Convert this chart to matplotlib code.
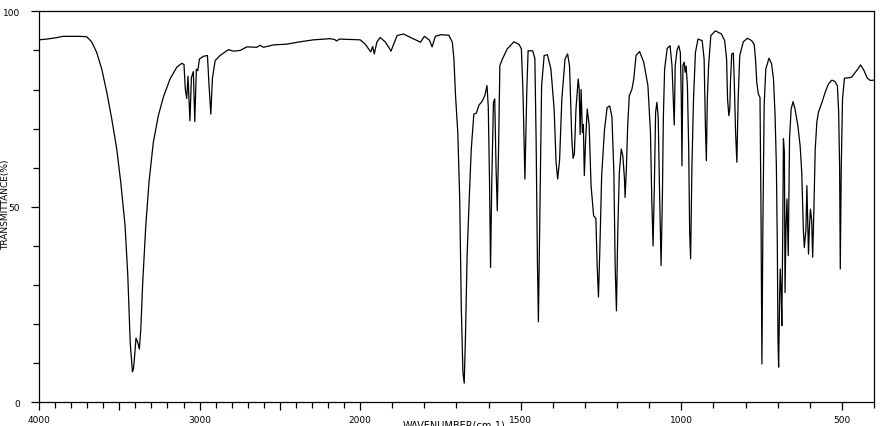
import numpy as np
import matplotlib
matplotlib.use("Agg")
import matplotlib.pyplot as plt

# IR spectrum (wavenumber in cm-1, transmittance in %)
wavenumber = [
    4000, 3950, 3900, 3849, 3750, 3703, 3672, 3641, 3609, 3578, 3547, 3516,
    3491, 3464, 3447, 3432, 3418, 3412, 3406, 3396, 3385, 3375, 3366, 3354,
    3335, 3315, 3288, 3257, 3226, 3184, 3142, 3111, 3097, 3089, 3080, 3072,
    3060, 3051, 3039, 3030, 3020, 3011, 3001, 2976, 2951, 2941, 2930, 2920,
    2903, 2872, 2820, 2789, 2747, 2706, 2644, 2623, 2602, 2540, 2457, 2374,
    2291, 2187, 2160, 2146, 2130, 2000, 1984, 1974, 1967, 1961, 1956, 1948,
    1938, 1922, 1908, 1904, 1896, 1885, 1865, 1838, 1812, 1800, 1784, 1776,
    1766, 1750, 1724, 1713, 1708, 1703, 1696, 1690, 1685, 1680, 1676, 1672,
    1667, 1660, 1654, 1646, 1638, 1630, 1620, 1612, 1605, 1601, 1597, 1594,
    1590, 1585, 1581, 1577, 1573, 1569, 1565, 1557, 1542, 1521, 1505, 1498,
    1493, 1487, 1481, 1477, 1463, 1456, 1452, 1448, 1445, 1441, 1435, 1427,
    1417, 1406, 1396, 1390, 1385, 1379, 1372, 1362, 1354, 1348, 1341, 1337,
    1333, 1328, 1321, 1318, 1315, 1312, 1308, 1305, 1302, 1298, 1293, 1287,
    1281, 1273, 1266, 1262, 1258, 1254, 1248, 1239, 1231, 1223, 1216, 1210,
    1206, 1202, 1198, 1193, 1187, 1182, 1177, 1175, 1171, 1167, 1162, 1154,
    1148, 1141, 1130, 1117, 1104, 1096, 1092, 1088, 1084, 1080, 1076, 1072,
    1068, 1063, 1059, 1056, 1052, 1044, 1035, 1029, 1025, 1022, 1019, 1013,
    1008, 1003, 1000, 998, 995, 991, 988, 985, 981, 977, 974, 971,
    967, 962, 956, 948, 935, 929, 925, 922, 919, 915, 908, 894,
    875, 865, 859, 856, 852, 849, 847, 843, 838, 835, 831, 827,
    823, 818, 807, 794, 781, 773, 769, 765, 760, 755, 752, 749,
    746, 742, 737, 727, 719, 713, 708, 704, 701, 699, 697, 694,
    692, 689, 687, 684, 682, 679, 677, 674, 671, 669, 667, 663,
    658, 652, 646, 637, 630, 625, 620, 617, 612, 609, 606, 604,
    601, 598, 594, 591, 587, 583, 578, 573, 562, 552, 542, 531,
    521, 514, 510, 507, 505, 502, 498, 492, 479, 469, 458, 448,
    442, 432, 421, 411, 400,
]
transmittance = [
    92.7, 92.9, 93.2, 93.6, 93.6, 93.5, 92.2, 89.5, 85.2, 79.3, 72.5, 64.8,
    56.3, 45.2, 32.4, 15.3, 7.8, 8.5, 11.1, 16.4, 15.3, 13.6, 18.7, 30.7,
    45.2, 56.3, 66.5, 73.3, 78.0, 82.7, 85.7, 86.7, 86.4, 80.1, 77.7, 83.4,
    72.0, 83.0, 84.6, 71.8, 85.2, 84.8, 87.8, 88.5, 88.7, 81.0, 73.7, 82.9,
    87.4, 88.7, 90.2, 89.8, 90.0, 90.9, 90.8, 91.3, 90.8, 91.4, 91.6, 92.2,
    92.7, 93.0, 92.8, 92.4, 92.9, 92.7, 91.6, 90.4, 89.6, 91.0, 89.1, 92.1,
    93.3, 92.2, 90.4, 89.8, 91.5, 93.8, 94.2, 93.1, 92.1, 93.6, 92.6, 90.9,
    93.6, 94.0, 93.9, 92.1, 87.8, 78.4, 69.0, 52.0, 23.9, 7.7, 4.9, 17.0,
    37.5, 52.8, 64.8, 73.7, 74.0, 76.0, 77.0, 78.4, 81.0, 75.4, 55.4, 34.5,
    57.0, 76.7, 77.6, 60.5, 49.0, 65.0, 86.1, 87.8, 90.4, 92.2, 91.5, 90.4,
    79.3, 57.1, 80.0, 89.9, 89.9, 88.0, 66.5, 35.8, 20.6, 45.0, 81.0, 88.7,
    88.9, 85.2, 75.0, 61.4, 57.1, 62.0, 77.6, 87.8, 89.1, 86.0, 67.4, 62.4,
    63.5, 75.0, 82.7, 80.0, 68.5, 80.0, 69.0, 71.0, 58.0, 67.0, 75.0, 71.0,
    55.4, 47.7, 47.0, 35.0, 26.9, 38.0, 58.0, 69.9, 75.4, 75.8, 73.0, 58.8,
    35.0, 23.4, 43.0, 58.8, 64.8, 63.0, 57.1, 52.4, 60.0, 70.7, 78.4, 80.0,
    82.7, 88.7, 89.7, 87.0, 81.0, 69.0, 52.0, 40.0, 55.0, 74.2, 76.7, 73.0,
    55.0, 35.0, 52.0, 72.5, 85.2, 90.5, 91.2, 86.1, 77.6, 70.9, 86.1, 90.2,
    91.2, 89.5, 77.6, 60.5, 86.1, 87.0, 84.4, 86.0, 81.0, 64.8, 43.5, 36.7,
    60.0, 77.6, 89.5, 92.9, 92.5, 87.8, 70.7, 61.8, 77.6, 86.1, 93.8, 95.0,
    94.2, 92.5, 87.8, 77.6, 73.3, 75.0, 81.8, 89.1, 89.3, 81.8, 69.0, 61.4,
    77.6, 88.7, 92.2, 93.1, 92.5, 91.5, 87.8, 81.8, 78.8, 78.0, 50.3, 9.8,
    45.0, 75.9, 85.2, 88.0, 86.6, 82.7, 73.3, 60.5, 40.0, 16.2, 9.0, 26.0,
    34.1, 28.0, 19.6, 45.0, 67.4, 64.0, 28.1, 45.0, 52.0, 45.0, 37.5, 67.4,
    75.0, 76.9, 75.0, 70.7, 65.6, 58.8, 44.3, 39.6, 44.0, 55.4, 45.0, 37.9,
    45.0, 49.4, 46.5, 37.1, 50.0, 64.8, 71.6, 74.2, 76.7, 79.3, 81.4, 82.4,
    82.0, 80.9, 74.2, 59.7, 34.1, 60.0, 77.6, 82.9, 83.0, 83.2, 84.4, 85.5,
    86.3, 85.0, 82.9, 82.3, 82.4,
]

x_ticks = [4000, 3500, 3000, 2500, 2000, 1500, 1000, 500]
x_ticklabels = ["4000", "", "3000", "", "2000", "1500", "1000", "500"]
y_ticks = [0, 50, 100]


# the chart compresses 4000-2000 to half the scale of 2000-400
def fwd(w):
    w = np.asarray(w, dtype=float)
    return np.where(w > 2000, 2000 + (w - 2000) / 2.0, w)


def inv(u):
    u = np.asarray(u, dtype=float)
    return np.where(u > 2000, 2000 + (u - 2000) * 2.0, u)


fig = plt.figure(figsize=(8.85, 4.27), dpi=100)
ax = fig.add_axes([39 / 885, (427 - 403.3) / 427, 835 / 885, 391 / 427])

ax.plot(wavenumber, transmittance, color="black", lw=0.9)

ax.set_xscale("function", functions=(fwd, inv))
ax.set_xlim(4000, 400)
ax.set_ylim(0, 100)

ax.set_xticks(x_ticks)
ax.set_xticklabels(x_ticklabels)
ax.set_xticks([w for w in range(400, 4001, 100) if w not in x_ticks], minor=True)
ax.set_yticks(y_ticks)
ax.set_yticks(range(0, 101, 10), minor=True)

ax.tick_params(which="major", direction="out", length=6, width=0.9,
               labelsize=6.5, pad=3)
ax.tick_params(axis="y", which="major", pad=7.5)
ax.tick_params(which="minor", direction="out", length=4, width=0.9)

for s in ax.spines.values():
    s.set_linewidth(0.9)

fig.text(6 / 885, 1 - 205 / 427, "TRANSMITTANCE(%)", rotation=90,
         ha="center", va="center", fontsize=6.5)
fig.text(403 / 885, 6 / 427, "WAVENUMBER(cm-1)", ha="left", va="top",
         fontsize=7)

fig.savefig("out.png", dpi=100)
